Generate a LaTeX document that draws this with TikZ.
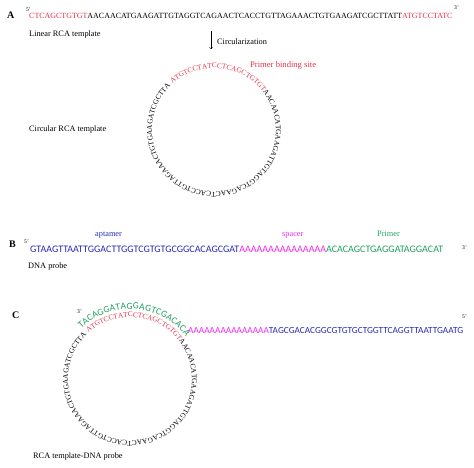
\documentclass[tikz,border=0pt]{standalone}
\usepackage{fontspec}
\setmainfont{Liberation Serif}
\newfontfamily\calib{Carlito}
\usetikzlibrary{decorations.text}
\definecolor{tred}{RGB}{232,48,72}
\definecolor{tblue}{RGB}{40,40,185}
\definecolor{tpink}{RGB}{236,40,236}
\definecolor{tgreen}{RGB}{30,160,95}
\newcommand{\ringfont}{\fontsize{7.3}{8}\selectfont}
\newcommand{\probefont}{\calib\fontsize{10}{12}\selectfont}

\begin{document}
\begin{tikzpicture}[x=1pt,y=1pt,
	lbl/.style={anchor=base west,inner sep=0pt,font=\fontsize{8.3}{9}\selectfont},
	prime/.style={anchor=base west,inner sep=0pt,font=\fontsize{5.6}{6}\selectfont},
	panel/.style={anchor=base west,inner sep=0pt,font=\fontsize{10}{11}\selectfont\bfseries},
	seq/.style={anchor=base west,inner sep=0pt}]
	\useasboundingbox (0,0) rectangle (474,-467);

	% A
	\node[panel] (A) at (7,-18) {A};
	\node[prime] (A5) at (26,-11) {5'};
	\node[seq,font=\fontsize{7.95}{9}\selectfont] (linear) at (29,-18.5) {\textcolor{tred}{CTCAGCTGTGT}AACAACATGAAGATTGTAGGTCAGAACTCACCTGTTAGAAACTGTGAAGATCGCTTATT\textcolor{tred}{ATGTCCTATC}};
	\node[prime] (A3) at (454,-9) {3'};
	\node[lbl] (lintxt) at (29,-36) {Linear RCA template};

	\coordinate (arrtop) at (211,-31);
	\coordinate (arrbot) at (211,-49);
	\draw[->,thin] (arrtop) -- (arrbot);
	\node[lbl] (circtxt) at (217,-44) {Circularization};

	\coordinate (ringA) at (214,-130);
	\path[decorate,decoration={text along path,text align=fit to path,
		text={|\ringfont\color{tred}|ATGTCCTATCCTCAGCTGTGT|\ringfont\color{black}|AACAACATGAAGATTGTAGGTCAGAACTCACCTGTTAGAAACTGTGAAGATCGCTTATT}}]
		(ringA) ++(132:62) arc[start angle=132,end angle=-224,radius=62];
	\node[lbl,text=tred,font=\fontsize{8.6}{9}\selectfont] (pbs) at (250,-67) {Primer binding site};
	\node[lbl] (ringtxt) at (29,-131) {Circular RCA template};

	% B
	\node[panel] (B) at (9,-247) {B};
	\node[prime] (B5) at (24,-243) {5'};
	\node[seq,font=\probefont] (probe) at (30,-252) {\textcolor{tblue}{GTAAGTTAATTGGACTTGGTCGTGTGCGGCACAGCGAT}\textcolor{tpink}{AAAAAAAAAAAAAAA}\textcolor{tgreen}{ACACAGCTGAGGATAGGACAT}};
	\node[prime] (B3) at (462,-249) {3'};
	\node[lbl,text=tblue] (apt) at (95,-236) {aptamer};
	\node[lbl,text=tpink] (spc) at (282,-236) {spacer};
	\node[lbl,text=tgreen] (prm) at (377,-236) {Primer};
	\node[lbl] (probetxt) at (28,-268) {DNA probe};

	% C
	\node[panel] (C) at (12,-318) {C};
	\node[prime] (C3) at (77,-313) {3'};
	\coordinate (ringC) at (130,-379);
	\path[decorate,decoration={text along path,text align=fit to path,
		text={|\ringfont\color{tred}|ATGTCCTATCCTCAGCTGTGT|\ringfont\color{black}|AACAACATGAAGATTGTAGGTCAGAACTCACCTGTTAGAAACTGTGAAGATCGCTTATT}}]
		(ringC) ++(132:62) arc[start angle=132,end angle=-224,radius=62];
	\path[decorate,decoration={text along path,text align=fit to path,
		text={|\calib\fontsize{9.5}{11}\selectfont\color{tgreen}|TACAGGATAGGAGTCGACACA}}]
		(ringC) ++(134:70) arc[start angle=134,end angle=37,radius=70];
	\node[seq,font=\calib\fontsize{9.3}{11}\selectfont] (tail) at (188,-333) {\textcolor{tpink}{AAAAAAAAAAAAAAA}\textcolor{tblue}{TAGCGACACGGCGTGTGCTGGTTCAGGTTAATTGAATG}};
	\node[prime] (C5) at (462,-318) {5'};
	\node[lbl] (hybtxt) at (33,-458) {RCA template-DNA probe};
\end{tikzpicture}
\end{document}
